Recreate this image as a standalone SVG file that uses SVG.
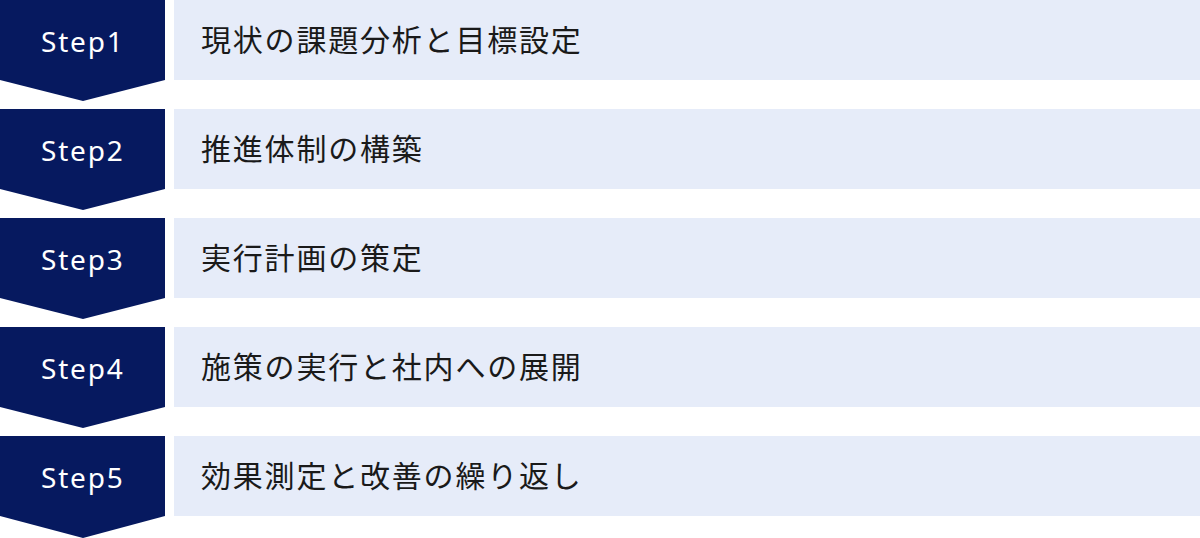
<svg xmlns="http://www.w3.org/2000/svg" width="1200" height="538" viewBox="0 0 1200 538">
<style>
.chev{fill:#06195f}
.bar{fill:#e6ecf9}
.step{font-family:"Noto Sans","Liberation Sans",sans-serif;font-size:28px;fill:#ffffff;letter-spacing:1.8px}
.lbl{font-family:"Noto Sans CJK JP","Noto Sans",sans-serif;font-size:30px;fill:#1a1a1a;letter-spacing:1.8px}
</style>
<rect width="1200" height="538" fill="#ffffff"/>
<g id="step1">
<path class="chev" d="M0 0H165V80L83 101L0 80Z"/>
<rect class="bar" x="174" y="0" width="1026" height="80"/>
<text class="step" x="41" y="52">Step1</text>
<text class="lbl" x="201" y="51">現状の課題分析と目標設定</text>
</g>
<g id="step2">
<path class="chev" d="M0 109H165V189L83 210L0 189Z"/>
<rect class="bar" x="174" y="109" width="1026" height="80"/>
<text class="step" x="41" y="161">Step2</text>
<text class="lbl" x="201" y="160">推進体制の構築</text>
</g>
<g id="step3">
<path class="chev" d="M0 218H165V298L83 319L0 298Z"/>
<rect class="bar" x="174" y="218" width="1026" height="80"/>
<text class="step" x="41" y="270">Step3</text>
<text class="lbl" x="201" y="269">実行計画の策定</text>
</g>
<g id="step4">
<path class="chev" d="M0 327H165V407L83 428L0 407Z"/>
<rect class="bar" x="174" y="327" width="1026" height="80"/>
<text class="step" x="41" y="379">Step4</text>
<text class="lbl" x="201" y="378">施策の実行と社内への展開</text>
</g>
<g id="step5">
<path class="chev" d="M0 436H165V516L83 538L0 516Z"/>
<rect class="bar" x="174" y="436" width="1026" height="80"/>
<text class="step" x="41" y="488">Step5</text>
<text class="lbl" x="201" y="487">効果測定と改善の繰り返し</text>
</g>
<g id="connectors"/>
</svg>
